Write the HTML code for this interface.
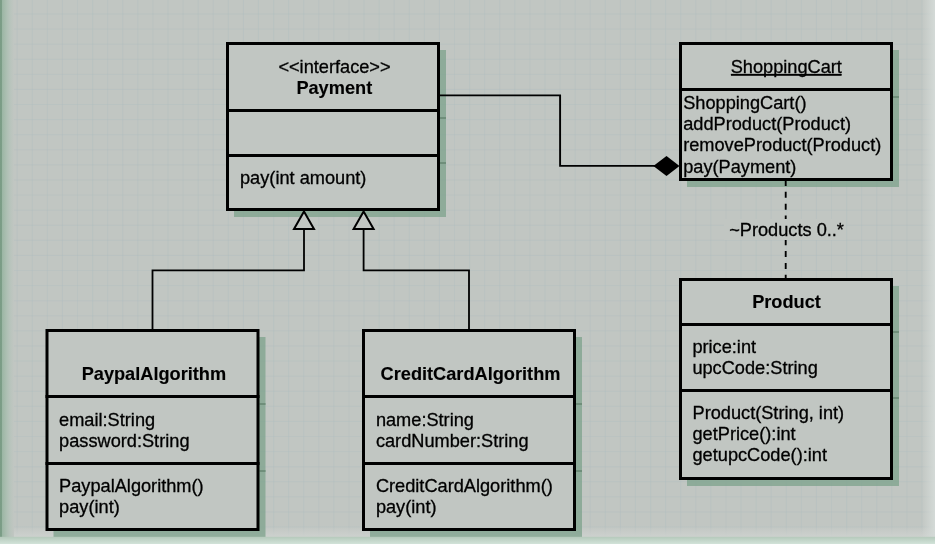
<!DOCTYPE html>
<html><head><meta charset="utf-8"><title>UML Strategy Pattern</title>
<style>
html,body{margin:0;padding:0;width:935px;height:544px;overflow:hidden;background:#c1c6c2;font-family:"Liberation Sans",sans-serif;}
</style></head><body>
<svg width="935" height="544" viewBox="0 0 935 544" style="display:block;will-change:transform">

<defs>
<linearGradient id="gl" x1="0" x2="1" y1="0" y2="0">
<stop offset="0" stop-color="#7a9c85"/>
<stop offset="0.125" stop-color="#7d9e88"/>
<stop offset="0.16" stop-color="#9bb6a4"/>
<stop offset="0.29" stop-color="#a3baaa"/>
<stop offset="0.5" stop-color="#aec0b4"/>
<stop offset="0.71" stop-color="#b8c4bc"/>
<stop offset="1" stop-color="#c1c6c2"/>
</linearGradient>
<linearGradient id="gr" x1="0" x2="1" y1="0" y2="0">
<stop offset="0" stop-color="#d4dad7" stop-opacity="0"/>
<stop offset="1" stop-color="#d4dad7" stop-opacity="1"/>
</linearGradient>
<linearGradient id="gb" x1="0" x2="0" y1="0" y2="1">
<stop offset="0" stop-color="#b5c9bb"/>
<stop offset="1" stop-color="#d2e3d9"/>
</linearGradient>
<linearGradient id="gb2" x1="0" x2="0" y1="0" y2="1">
<stop offset="0" stop-color="#cdd1ce" stop-opacity="0"/>
<stop offset="1" stop-color="#cdd1ce" stop-opacity="1"/>
</linearGradient>
</defs>

<rect width="935" height="544" fill="#c1c6c2"/>
<g stroke="#aebbbe" stroke-width="1" stroke-opacity="0.33"><line x1="17.20" y1="0" x2="17.20" y2="544"/><line x1="32.28" y1="0" x2="32.28" y2="544"/><line x1="47.36" y1="0" x2="47.36" y2="544"/><line x1="62.44" y1="0" x2="62.44" y2="544"/><line x1="77.52" y1="0" x2="77.52" y2="544"/><line x1="92.60" y1="0" x2="92.60" y2="544"/><line x1="107.68" y1="0" x2="107.68" y2="544"/><line x1="122.76" y1="0" x2="122.76" y2="544"/><line x1="137.84" y1="0" x2="137.84" y2="544"/><line x1="152.92" y1="0" x2="152.92" y2="544"/><line x1="168.00" y1="0" x2="168.00" y2="544"/><line x1="183.08" y1="0" x2="183.08" y2="544"/><line x1="198.16" y1="0" x2="198.16" y2="544"/><line x1="213.24" y1="0" x2="213.24" y2="544"/><line x1="228.32" y1="0" x2="228.32" y2="544"/><line x1="243.40" y1="0" x2="243.40" y2="544"/><line x1="258.48" y1="0" x2="258.48" y2="544"/><line x1="273.56" y1="0" x2="273.56" y2="544"/><line x1="288.64" y1="0" x2="288.64" y2="544"/><line x1="303.72" y1="0" x2="303.72" y2="544"/><line x1="318.80" y1="0" x2="318.80" y2="544"/><line x1="333.88" y1="0" x2="333.88" y2="544"/><line x1="348.96" y1="0" x2="348.96" y2="544"/><line x1="364.04" y1="0" x2="364.04" y2="544"/><line x1="379.12" y1="0" x2="379.12" y2="544"/><line x1="394.20" y1="0" x2="394.20" y2="544"/><line x1="409.28" y1="0" x2="409.28" y2="544"/><line x1="424.36" y1="0" x2="424.36" y2="544"/><line x1="439.44" y1="0" x2="439.44" y2="544"/><line x1="454.52" y1="0" x2="454.52" y2="544"/><line x1="469.60" y1="0" x2="469.60" y2="544"/><line x1="484.68" y1="0" x2="484.68" y2="544"/><line x1="499.76" y1="0" x2="499.76" y2="544"/><line x1="514.84" y1="0" x2="514.84" y2="544"/><line x1="529.92" y1="0" x2="529.92" y2="544"/><line x1="545.00" y1="0" x2="545.00" y2="544"/><line x1="560.08" y1="0" x2="560.08" y2="544"/><line x1="575.16" y1="0" x2="575.16" y2="544"/><line x1="590.24" y1="0" x2="590.24" y2="544"/><line x1="605.32" y1="0" x2="605.32" y2="544"/><line x1="620.40" y1="0" x2="620.40" y2="544"/><line x1="635.48" y1="0" x2="635.48" y2="544"/><line x1="650.56" y1="0" x2="650.56" y2="544"/><line x1="665.64" y1="0" x2="665.64" y2="544"/><line x1="680.72" y1="0" x2="680.72" y2="544"/><line x1="695.80" y1="0" x2="695.80" y2="544"/><line x1="710.88" y1="0" x2="710.88" y2="544"/><line x1="725.96" y1="0" x2="725.96" y2="544"/><line x1="741.04" y1="0" x2="741.04" y2="544"/><line x1="756.12" y1="0" x2="756.12" y2="544"/><line x1="771.20" y1="0" x2="771.20" y2="544"/><line x1="786.28" y1="0" x2="786.28" y2="544"/><line x1="801.36" y1="0" x2="801.36" y2="544"/><line x1="816.44" y1="0" x2="816.44" y2="544"/><line x1="831.52" y1="0" x2="831.52" y2="544"/><line x1="846.60" y1="0" x2="846.60" y2="544"/><line x1="861.68" y1="0" x2="861.68" y2="544"/><line x1="876.76" y1="0" x2="876.76" y2="544"/><line x1="891.84" y1="0" x2="891.84" y2="544"/><line x1="906.92" y1="0" x2="906.92" y2="544"/><line x1="922.00" y1="0" x2="922.00" y2="544"/><line x1="0" y1="14.00" x2="935" y2="14.00"/><line x1="0" y1="29.09" x2="935" y2="29.09"/><line x1="0" y1="44.18" x2="935" y2="44.18"/><line x1="0" y1="59.27" x2="935" y2="59.27"/><line x1="0" y1="74.36" x2="935" y2="74.36"/><line x1="0" y1="89.45" x2="935" y2="89.45"/><line x1="0" y1="104.54" x2="935" y2="104.54"/><line x1="0" y1="119.63" x2="935" y2="119.63"/><line x1="0" y1="134.72" x2="935" y2="134.72"/><line x1="0" y1="149.81" x2="935" y2="149.81"/><line x1="0" y1="164.90" x2="935" y2="164.90"/><line x1="0" y1="179.99" x2="935" y2="179.99"/><line x1="0" y1="195.08" x2="935" y2="195.08"/><line x1="0" y1="210.17" x2="935" y2="210.17"/><line x1="0" y1="225.26" x2="935" y2="225.26"/><line x1="0" y1="240.35" x2="935" y2="240.35"/><line x1="0" y1="255.44" x2="935" y2="255.44"/><line x1="0" y1="270.53" x2="935" y2="270.53"/><line x1="0" y1="285.62" x2="935" y2="285.62"/><line x1="0" y1="300.71" x2="935" y2="300.71"/><line x1="0" y1="315.80" x2="935" y2="315.80"/><line x1="0" y1="330.89" x2="935" y2="330.89"/><line x1="0" y1="345.98" x2="935" y2="345.98"/><line x1="0" y1="361.07" x2="935" y2="361.07"/><line x1="0" y1="376.16" x2="935" y2="376.16"/><line x1="0" y1="391.25" x2="935" y2="391.25"/><line x1="0" y1="406.34" x2="935" y2="406.34"/><line x1="0" y1="421.43" x2="935" y2="421.43"/><line x1="0" y1="436.52" x2="935" y2="436.52"/><line x1="0" y1="451.61" x2="935" y2="451.61"/><line x1="0" y1="466.70" x2="935" y2="466.70"/><line x1="0" y1="481.79" x2="935" y2="481.79"/><line x1="0" y1="496.88" x2="935" y2="496.88"/><line x1="0" y1="511.97" x2="935" y2="511.97"/><line x1="0" y1="527.06" x2="935" y2="527.06"/><line x1="0" y1="542.15" x2="935" y2="542.15"/></g>
<rect x="0" y="526" width="935" height="11" fill="url(#gb2)"/>
<rect x="234" y="50" width="212" height="167" fill="rgba(129,164,142,0.8)"/><rect x="440" y="117.0" width="6" height="2" fill="#6f8e7a"/><rect x="440" y="162.0" width="6" height="2" fill="#6f8e7a"/><rect x="227.5" y="43.5" width="211" height="166" fill="#c1c6c2" stroke="#000" stroke-width="3"/><rect x="226" y="109" width="214" height="3" fill="#000"/><rect x="226" y="154" width="214" height="3" fill="#000"/><rect x="687" y="50" width="212" height="137" fill="rgba(129,164,142,0.8)"/><rect x="893" y="96.0" width="6" height="2" fill="#6f8e7a"/><rect x="680.5" y="43.5" width="211" height="136" fill="#c1c6c2" stroke="#000" stroke-width="3"/><rect x="679" y="88" width="214" height="3" fill="#000"/><rect x="687" y="286" width="212" height="200" fill="rgba(129,164,142,0.8)"/><rect x="893" y="331.0" width="6" height="2" fill="#6f8e7a"/><rect x="893" y="397.0" width="6" height="2" fill="#6f8e7a"/><rect x="680.5" y="279.5" width="211" height="199" fill="#c1c6c2" stroke="#000" stroke-width="3"/><rect x="679" y="323" width="214" height="3" fill="#000"/><rect x="679" y="389" width="214" height="3" fill="#000"/><rect x="53.5" y="337" width="212.0" height="200" fill="rgba(129,164,142,0.8)"/><rect x="259.5" y="403.0" width="6" height="2" fill="#6f8e7a"/><rect x="259.5" y="470.0" width="6" height="2" fill="#6f8e7a"/><rect x="47.0" y="330.5" width="211.0" height="199" fill="#c1c6c2" stroke="#000" stroke-width="3"/><rect x="45.5" y="395" width="214.0" height="3" fill="#000"/><rect x="45.5" y="462" width="214.0" height="3" fill="#000"/><rect x="370" y="337" width="212" height="200" fill="rgba(129,164,142,0.8)"/><rect x="576" y="403.0" width="6" height="2" fill="#6f8e7a"/><rect x="576" y="470.0" width="6" height="2" fill="#6f8e7a"/><rect x="363.5" y="330.5" width="211" height="199" fill="#c1c6c2" stroke="#000" stroke-width="3"/><rect x="362" y="395" width="214" height="3" fill="#000"/><rect x="362" y="462" width="214" height="3" fill="#000"/>
<polyline points="440,95.4 560.1,95.4 560.1,165.9 656,165.9" fill="none" stroke="#000" stroke-width="1.9"/><polygon points="653.4,166 666.5,156 679.5,166 666.5,176" fill="#000"/><line x1="785.7" y1="180" x2="785.7" y2="279" stroke="#000" stroke-width="1.85" stroke-dasharray="6 5.85"/><rect x="724" y="219" width="122" height="21" fill="#c1c6c2"/><polyline points="152.5,329 152.5,270.4 304,270.4 304,229" fill="none" stroke="#000" stroke-width="1.8"/><polyline points="469,329 469,270.4 363.6,270.4 363.6,229" fill="none" stroke="#000" stroke-width="1.8"/><polygon points="304,211.5 294,229 314,229" fill="#c1c6c2" stroke="#000" stroke-width="2" stroke-linejoin="miter"/><polygon points="363.6,211.5 353.6,229 373.6,229" fill="#c1c6c2" stroke="#000" stroke-width="2" stroke-linejoin="miter"/>
<g font-family="Liberation Sans, sans-serif" font-size="18.2" fill="#000" stroke="#000" stroke-width="0.3">
<text x="334.5" y="73" text-anchor="middle">&lt;&lt;interface&gt;&gt;</text><text x="334.3" y="94" text-anchor="middle" font-weight="bold" stroke-width="0.12">Payment</text><text x="240" y="184">pay(int amount)</text><text x="786.3" y="73" text-anchor="middle">ShoppingCart</text><rect x="731" y="74" width="110.6" height="1.7" fill="#000"/><text x="683.2" y="109">ShoppingCart()</text><text x="683.2" y="130">addProduct(Product)</text><text x="683.2" y="151">removeProduct(Product)</text><text x="683.2" y="173">pay(Payment)</text><text x="786.5" y="308" text-anchor="middle" font-weight="bold" stroke-width="0.12">Product</text><text x="692.4" y="353">price:int</text><text x="692.4" y="374">upcCode:String</text><text x="692.5" y="419">Product(String, int)</text><text x="692.5" y="440">getPrice():int</text><text x="692.5" y="461">getupcCode():int</text><text x="153.9" y="380" text-anchor="middle" font-weight="bold" stroke-width="0.12">PaypalAlgorithm</text><text x="59.1" y="426">email:String</text><text x="59.1" y="447">password:String</text><text x="59.1" y="492">PaypalAlgorithm()</text><text x="59.1" y="513">pay(int)</text><text x="470.5" y="380" text-anchor="middle" font-weight="bold" stroke-width="0.12">CreditCardAlgorithm</text><text x="375.9" y="426">name:String</text><text x="375.9" y="447">cardNumber:String</text><text x="375.9" y="492">CreditCardAlgorithm()</text><text x="375.9" y="513">pay(int)</text><text x="729.2" y="236">~Products 0..*</text>
</g>

<rect x="0" y="0" width="14" height="544" fill="url(#gl)"/>
<rect x="921" y="0" width="14" height="544" fill="url(#gr)"/>
<rect x="0" y="536.8" width="935" height="7.2" fill="url(#gb)"/>

</svg>
</body></html>
